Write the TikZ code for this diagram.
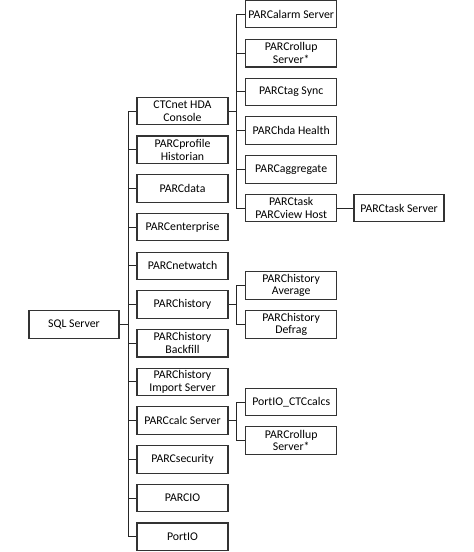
\documentclass[tikz,border=0pt]{standalone}
\usepackage{fontspec}
\setmainfont{Carlito}
\begin{document}
\begin{tikzpicture}[x=1pt,y=-1pt,
  box/.style={draw=black!80,line width=1.1pt,minimum width=91pt,minimum height=27.5pt,inner sep=1pt,align=center,text=black,font=\fontsize{11.8}{12.8}\selectfont},
  conn/.style={draw=black!85,line width=1pt}]
\useasboundingbox (0,0) rectangle (474,552);
% trunk x-coordinates
\coordinate (t0) at (128.7,0);
\coordinate (t1) at (236,0);
% SQL
\node[box,minimum width=90pt] (sql) at (74,324.5) {SQL Server};
% middle column
\node[box] (ctc) at (182.5,111) {CTCnet HDA\\Console};
\node[box] (prof) at (182.5,149.7) {PARCprofile\\Historian};
\node[box] (data) at (182.5,188.4) {PARCdata};
\node[box] (ent) at (182.5,227.1) {PARCenterprise};
\node[box] (net) at (182.5,265.8) {PARCnetwatch};
\node[box] (hist) at (182.5,304.5) {PARChistory};
\node[box] (back) at (182.5,343.2) {PARChistory\\Backfill};
\node[box] (imp) at (182.5,381.9) {PARChistory\\Import Server};
\node[box] (calc) at (182.5,420.6) {PARCcalc Server};
\node[box] (sec) at (182.5,459.3) {PARCsecurity};
\node[box] (pio) at (182.5,498) {PARCIO};
\node[box] (port) at (182.5,536.7) {PortIO};
% right column
\node[box] (alarm) at (291.2,14) {PARCalarm Server};
\node[box] (roll1) at (291.2,53.2) {PARCrollup\\Server*};
\node[box] (tag) at (291.2,91.9) {PARCtag Sync};
\node[box] (hda) at (291.2,130.6) {PARChda Health};
\node[box] (agg) at (291.2,169.3) {PARCaggregate};
\node[box] (task) at (291.2,208) {PARCtask\\PARCview Host};
\node[box,minimum width=90pt] (tasks) at (399,208) {PARCtask Server};
\node[box] (avg) at (291.2,285.5) {PARChistory\\Average};
\node[box] (defrag) at (291.2,324.5) {PARChistory\\Defrag};
\node[box] (cio) at (291.2,402) {PortIO\_CTCcalcs};
\node[box] (roll2) at (291.2,440.5) {PARCrollup\\Server*};
% connectors
\draw[conn] (sql.east) -- (sql.east -| t0);
\foreach \c in {ctc,prof,data,ent,net,hist,back,imp,calc,sec,pio,port}
  \draw[conn] (sql.east -| t0) |- (\c.west);
\draw[conn] (ctc.east) -- (ctc.east -| t1);
\foreach \c in {alarm,roll1,tag,hda,agg,task}
  \draw[conn] (ctc.east -| t1) |- (\c.west);
\draw[conn] (task.east) -- (tasks.west);
\draw[conn] (hist.east) -- (hist.east -| t1);
\foreach \c in {avg,defrag}
  \draw[conn] (hist.east -| t1) |- (\c.west);
\draw[conn] (calc.east) -- (calc.east -| t1);
\foreach \c in {cio,roll2}
  \draw[conn] (calc.east -| t1) |- (\c.west);
\end{tikzpicture}
\end{document}
